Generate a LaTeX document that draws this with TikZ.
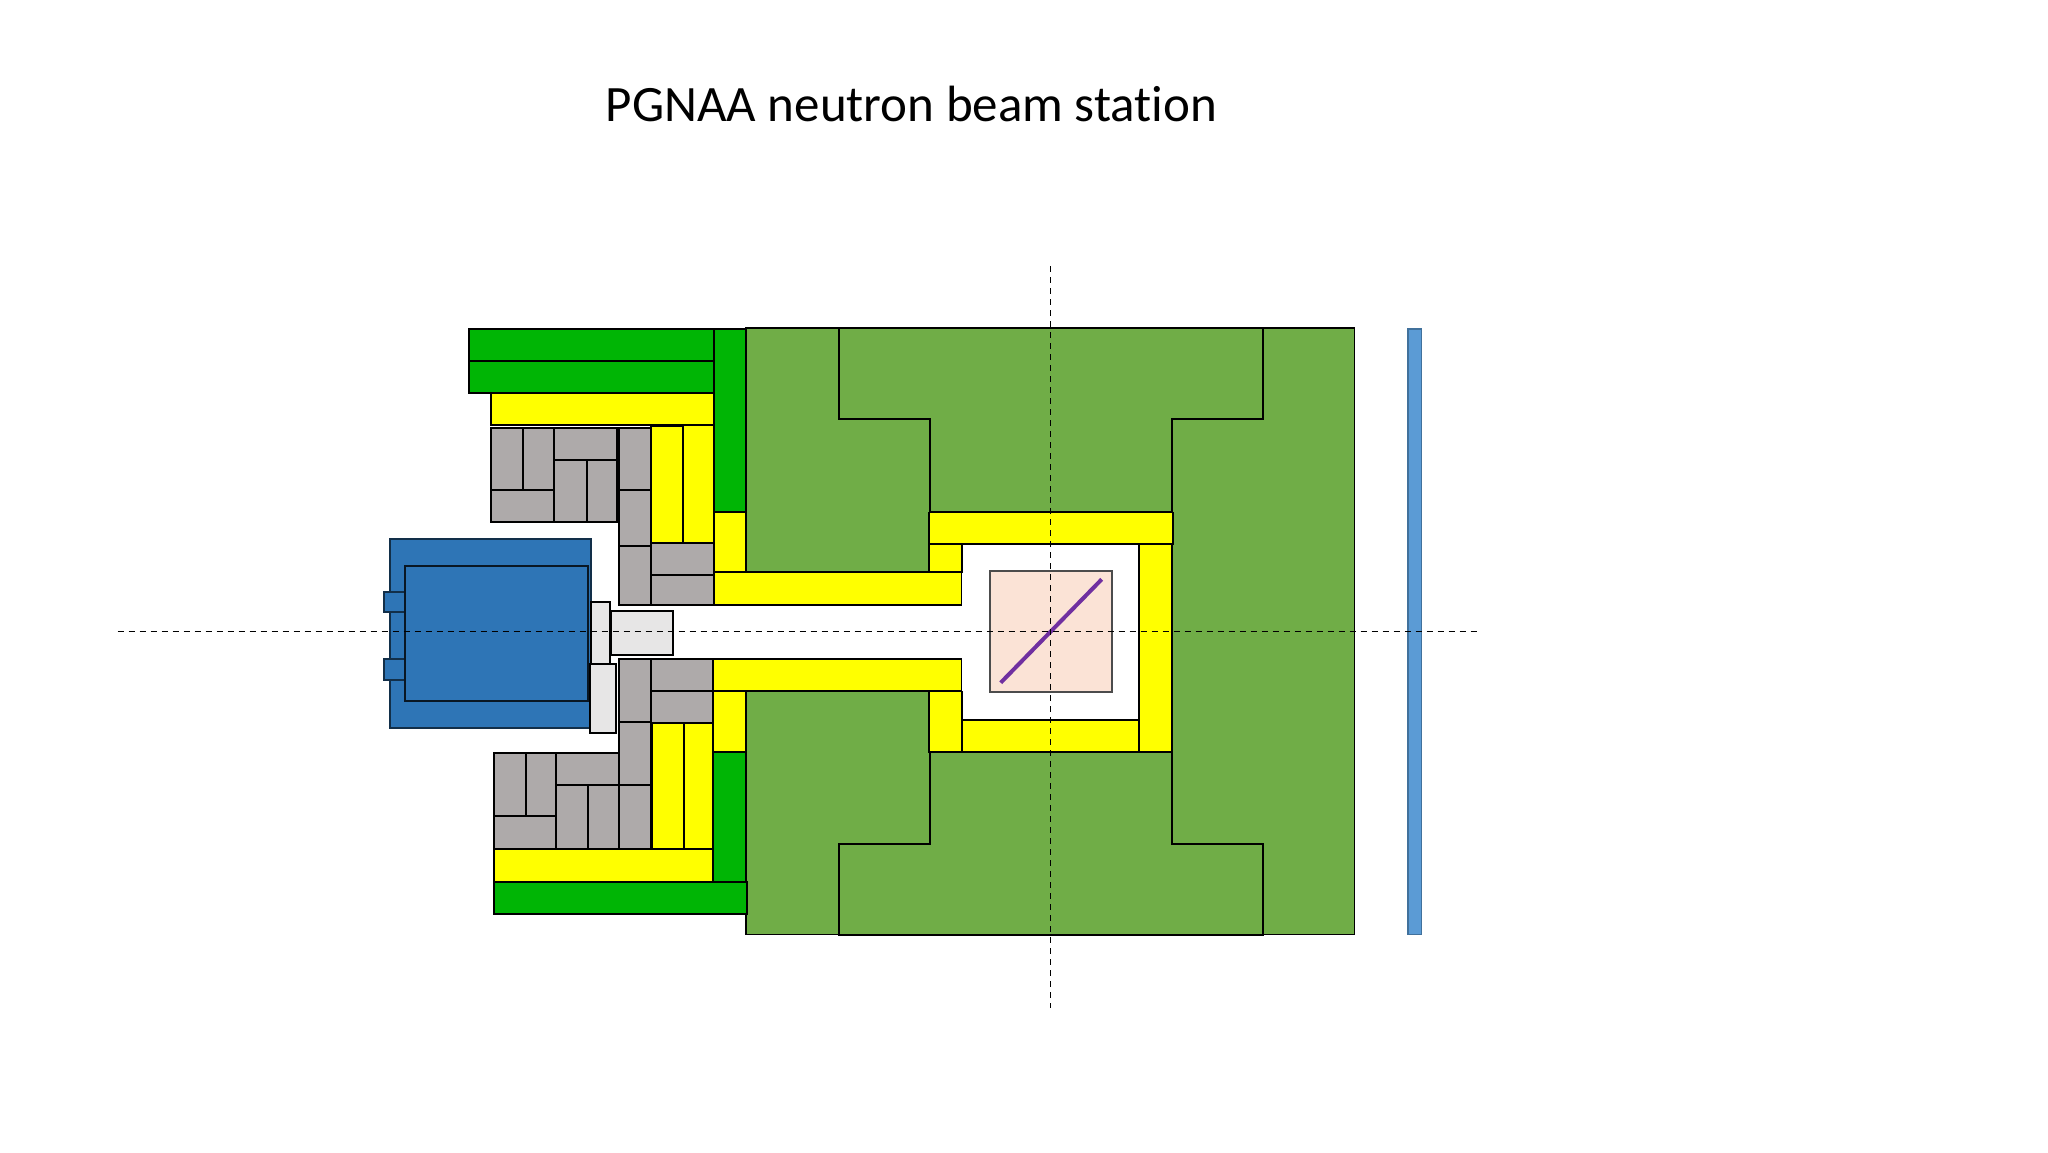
\documentclass[tikz,border=0pt]{standalone}
\usepackage{fontspec}
\setmainfont{Carlito}[Ligatures=CommonOff]
\definecolor{shield}{HTML}{70AD47}
\definecolor{dgreen}{HTML}{00B505}
\definecolor{yel}{HTML}{FFFF00}
\definecolor{lead}{HTML}{AEAAAA}
\definecolor{blu}{HTML}{2E75B6}
\definecolor{pale}{HTML}{E7E6E6}
\definecolor{peach}{HTML}{FBE3D6}
\definecolor{purp}{HTML}{7030A0}
\definecolor{bar}{HTML}{5B9BD5}
\definecolor{baredge}{HTML}{41719C}
\tikzset{
  part/.style={draw=black,line width=0.95pt,line join=miter},
  shieldpart/.style={part,fill=shield},
  dgpart/.style={part,fill=dgreen},
  yelpart/.style={part,fill=yel},
  leadpart/.style={part,fill=lead},
  blupart/.style={part,draw=black!60!blu,fill=blu},
  palepart/.style={part,fill=pale},
  axisline/.style={draw=black,line width=0.55pt,dash pattern=on 3pt off 2.5pt},
}
\begin{document}
\begin{tikzpicture}[x=0.5pt,y=-0.5pt]
\useasboundingbox (0,0) rectangle (2048,1152);
\node[anchor=center,font=\fontsize{25.5pt}{30pt}\selectfont,inner sep=0pt] (title) at (911.5,104) {PGNAA neutron beam station};
% main shield
\draw[shieldpart] (745.8,328) rectangle (1354.5,934.5);
\draw[part] (838.6,328) -- (838.6,419) -- (930,419) -- (930,512) -- (1172,512) -- (1172,419) -- (1263,419) -- (1263,328);
\draw[part] (838.6,935) -- (838.6,844.3) -- (930,844.3) -- (930,752.3) -- (1172,752.3) -- (1172,844.3) -- (1263,844.3) -- (1263,935) -- cycle;
% sample cavity
\fill[white] (961,544) rectangle (1139.5,720);
\fill[white] (672,605) rectangle (961,659.3);
\draw[yelpart] (929.3,512.5) rectangle (1172.7,544);
\draw[yelpart] (929.3,544) rectangle (961.7,572);
\draw[yelpart] (929.3,691.5) rectangle (961.7,752.3);
\draw[yelpart] (961.7,720) rectangle (1139.3,752.3);
\draw[yelpart] (1139.3,544) rectangle (1171.7,752.3);
\draw[part,draw=black!70,fill=peach] (990,571) rectangle (1111.7,692.3);
\draw[purp,line width=2pt] (1000.7,682.7) -- (1101.7,579.3);
% channel liner
\draw[yelpart] (713.7,572.3) rectangle (961.5,604.7);
\draw[yelpart] (713.3,659.3) rectangle (961.5,691.3);
% upper stack
\draw[dgpart] (713.7,328.7) rectangle (746.3,512);
\draw[yelpart] (713.7,512) rectangle (746.3,572.3);
\draw[dgpart] (469,328.7) rectangle (713.7,360.7);
\draw[dgpart] (469,360.7) rectangle (713.7,393);
\draw[yelpart] (491.3,393) rectangle (713.7,425.3);
\draw[leadpart] (491.3,428) rectangle (523.3,490.3);
\draw[leadpart] (523.3,428) rectangle (553.7,490.3);
\draw[leadpart] (491.3,490.3) rectangle (553.7,522.3);
\draw[leadpart] (554.3,428) rectangle (617,460);
\draw[leadpart] (554.3,460) rectangle (587.3,522.3);
\draw[leadpart] (587.3,460) rectangle (617,522.3);
\draw[leadpart] (618.7,428) rectangle (651,489.7);
\draw[leadpart] (618.7,489.7) rectangle (651,546);
\draw[leadpart] (618.7,546) rectangle (651,605);
\draw[yelpart] (651,426.5) rectangle (682.7,542.7);
\draw[yelpart] (682.7,425.3) rectangle (713.7,542.7);
\draw[leadpart] (651,542.7) rectangle (713.7,575);
\draw[leadpart] (651,575) rectangle (713.7,605);
% lower stack
\draw[yelpart] (713.3,691.3) rectangle (746,751.7);
\draw[dgpart] (713.3,751.7) rectangle (746,881.7);
\draw[dgpart] (494,881.7) rectangle (747.3,914);
\draw[yelpart] (494,849) rectangle (713.3,881.7);
\draw[leadpart] (494,753.3) rectangle (525.7,815.7);
\draw[leadpart] (525.7,753.3) rectangle (555.7,815.7);
\draw[leadpart] (494,815.7) rectangle (555.7,848.5);
\draw[leadpart] (556.3,753.3) rectangle (618.7,785);
\draw[leadpart] (556.3,785) rectangle (588.3,848.5);
\draw[leadpart] (588.3,785) rectangle (618.7,848.5);
\draw[leadpart] (619,659.3) rectangle (651,722);
\draw[leadpart] (619,722) rectangle (651,785);
\draw[leadpart] (619,785) rectangle (651,848.5);
\draw[leadpart] (651,659.3) rectangle (713.3,690.7);
\draw[leadpart] (651,690.7) rectangle (713.3,722.7);
\draw[yelpart] (652,722.7) rectangle (684,849);
\draw[yelpart] (684,722.7) rectangle (713.3,849);
% source
\draw[blupart] (390,538.7) rectangle (590.7,728.3);
\draw[blupart] (384,591.7) rectangle (405,611.7);
\draw[blupart] (384,659.3) rectangle (405,679.7);
\draw[part,draw=black!80!blu,fill=blu] (405,566) rectangle (588.3,700.7);
\draw[palepart] (590.7,601.7) rectangle (610,664);
\draw[palepart] (590.3,664) rectangle (615.7,733.3);
\draw[palepart] (610.7,611) rectangle (672.7,655);
% detector
\draw[part,line width=0.7pt,draw=baredge,fill=bar] (1408,329) rectangle (1421.7,934.3);
% axes
\coordinate (hl) at (117.5,631.7);
\coordinate (hr) at (1477,631.7);
\coordinate (vt) at (1050.7,266);
\coordinate (vb) at (1050.7,1007.7);
\draw[axisline] (hl) -- (hr);
\draw[axisline] (vt) -- (vb);
\end{tikzpicture}
\end{document}
